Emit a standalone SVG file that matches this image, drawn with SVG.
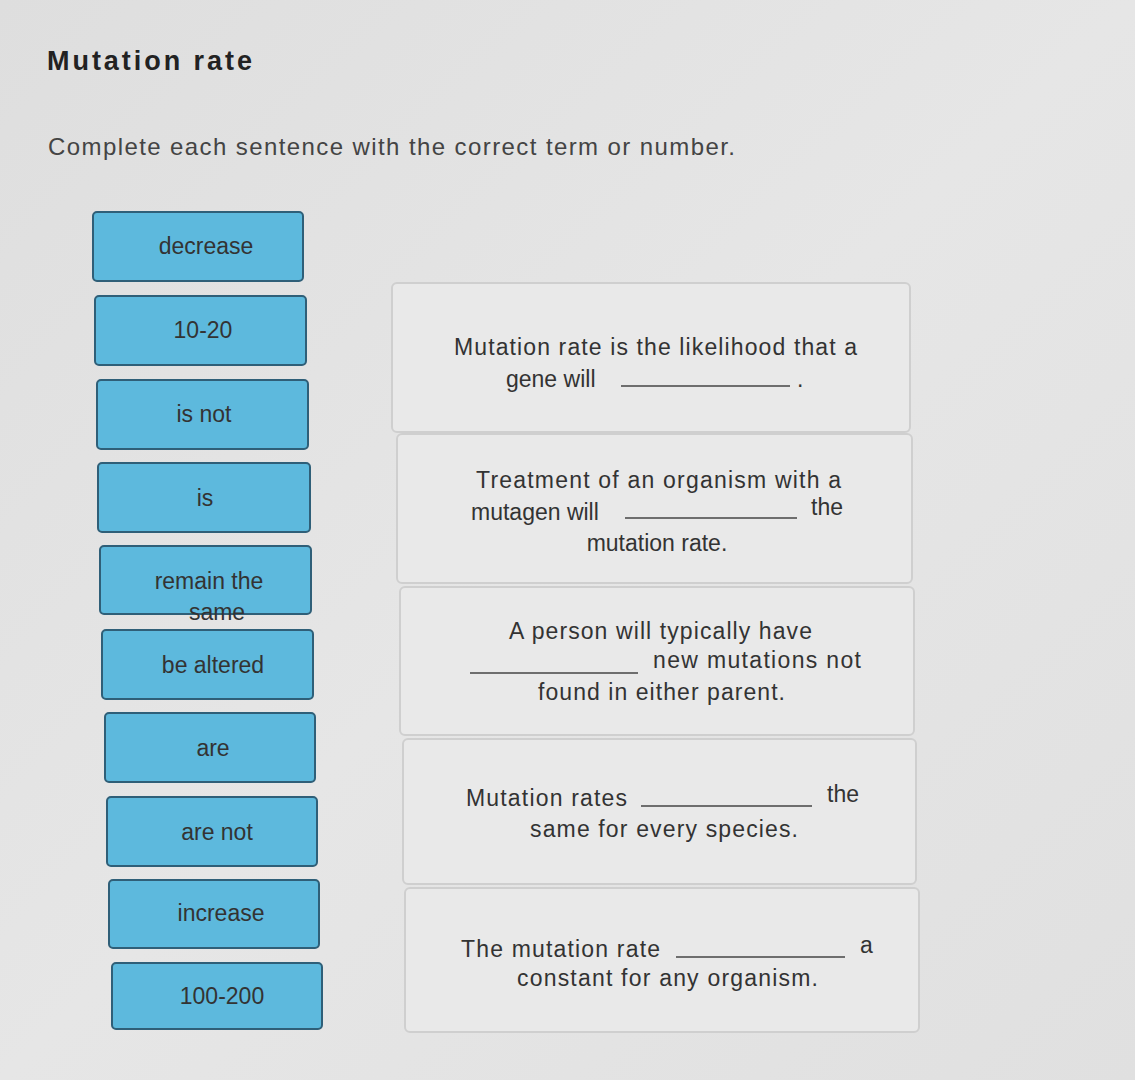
<svg xmlns="http://www.w3.org/2000/svg" width="1135" height="1080" viewBox="0 0 1135 1080">
<defs>
<linearGradient id="bg" x1="0" y1="0" x2="1" y2="1">
<stop offset="0" stop-color="#dedede"/><stop offset="0.5" stop-color="#e6e6e6"/><stop offset="1" stop-color="#e0e0e0"/>
</linearGradient>
</defs>
<style>
.t{font-family:"Liberation Sans",Arial,sans-serif;fill:#333;font-size:23px}
.btn{fill:#5db9dd;stroke:#2f5f78;stroke-width:2}
.box{fill:#e9e9e9;stroke:#cfcfcf;stroke-width:2}
.bl{stroke:#444;stroke-width:1.5}
</style>
<rect width="1135" height="1080" fill="url(#bg)"/>
<text x="47" y="70" class="t" style="font-weight:bold;font-size:27px;fill:#222" textLength="205">Mutation rate</text>
<text x="48" y="155" class="t" style="font-size:24px;fill:#444" textLength="687">Complete each sentence with the correct term or number.</text>
<g id="b1"><rect class="btn" x="93" y="212" width="210" height="69" rx="4"/><text class="t" x="206" y="254" text-anchor="middle">decrease</text></g>
<g id="b2"><rect class="btn" x="95" y="296" width="211" height="69" rx="4"/><text class="t" x="203" y="338" text-anchor="middle">10-20</text></g>
<g id="b3"><rect class="btn" x="97" y="380" width="211" height="69" rx="4"/><text class="t" x="204" y="422" text-anchor="middle">is not</text></g>
<g id="b4"><rect class="btn" x="98" y="463" width="212" height="69" rx="4"/><text class="t" x="205" y="506" text-anchor="middle">is</text></g>
<g id="b5"><rect class="btn" x="100" y="546" width="211" height="68" rx="4"/><text class="t" x="209" y="589" text-anchor="middle">remain the</text><text class="t" x="217" y="620" text-anchor="middle">same</text></g>
<g id="b6"><rect class="btn" x="102" y="630" width="211" height="69" rx="4"/><text class="t" x="213" y="673" text-anchor="middle">be altered</text></g>
<g id="b7"><rect class="btn" x="105" y="713" width="210" height="69" rx="4"/><text class="t" x="213" y="756" text-anchor="middle">are</text></g>
<g id="b8"><rect class="btn" x="107" y="797" width="210" height="69" rx="4"/><text class="t" x="217" y="840" text-anchor="middle">are not</text></g>
<g id="b9"><rect class="btn" x="109" y="880" width="210" height="68" rx="4"/><text class="t" x="221" y="921" text-anchor="middle">increase</text></g>
<g id="b10"><rect class="btn" x="112" y="963" width="210" height="66" rx="4"/><text class="t" x="222" y="1004" text-anchor="middle">100-200</text></g>
<g id="s1"><rect class="box" x="392" y="283" width="518" height="149" rx="5"/>
<text class="t" x="454" y="355" textLength="403">Mutation rate is the likelihood that a</text>
<text class="t" x="506" y="387">gene will</text><line class="bl" x1="621" y1="386" x2="790" y2="386"/><text class="t" x="797" y="387">.</text></g>
<g id="s2"><rect class="box" x="397" y="434" width="515" height="149" rx="5"/>
<text class="t" x="476" y="488" textLength="365">Treatment of an organism with a</text>
<text class="t" x="471" y="520">mutagen will</text><line class="bl" x1="625" y1="518" x2="797" y2="518"/><text class="t" x="811" y="515">the</text>
<text class="t" x="657" y="551" text-anchor="middle">mutation rate.</text></g>
<g id="s3"><rect class="box" x="400" y="587" width="514" height="148" rx="5"/>
<text class="t" x="509" y="639" textLength="303">A person will typically have</text>
<line class="bl" x1="470" y1="673" x2="638" y2="673"/><text class="t" x="653" y="668" textLength="208">new mutations not</text>
<text class="t" x="538" y="700" textLength="247">found in either parent.</text></g>
<g id="s4"><rect class="box" x="403" y="739" width="513" height="145" rx="5"/>
<text class="t" x="466" y="806" textLength="161">Mutation rates</text><line class="bl" x1="641" y1="806" x2="812" y2="806"/><text class="t" x="827" y="802">the</text>
<text class="t" x="530" y="837" textLength="268">same for every species.</text></g>
<g id="s5"><rect class="box" x="405" y="888" width="514" height="144" rx="5"/>
<text class="t" x="461" y="957" textLength="199">The mutation rate</text><line class="bl" x1="676" y1="957" x2="845" y2="957"/><text class="t" x="860" y="953">a</text>
<text class="t" x="517" y="986" textLength="301">constant for any organism.</text></g>
<g id="connectors"></g>
</svg>
